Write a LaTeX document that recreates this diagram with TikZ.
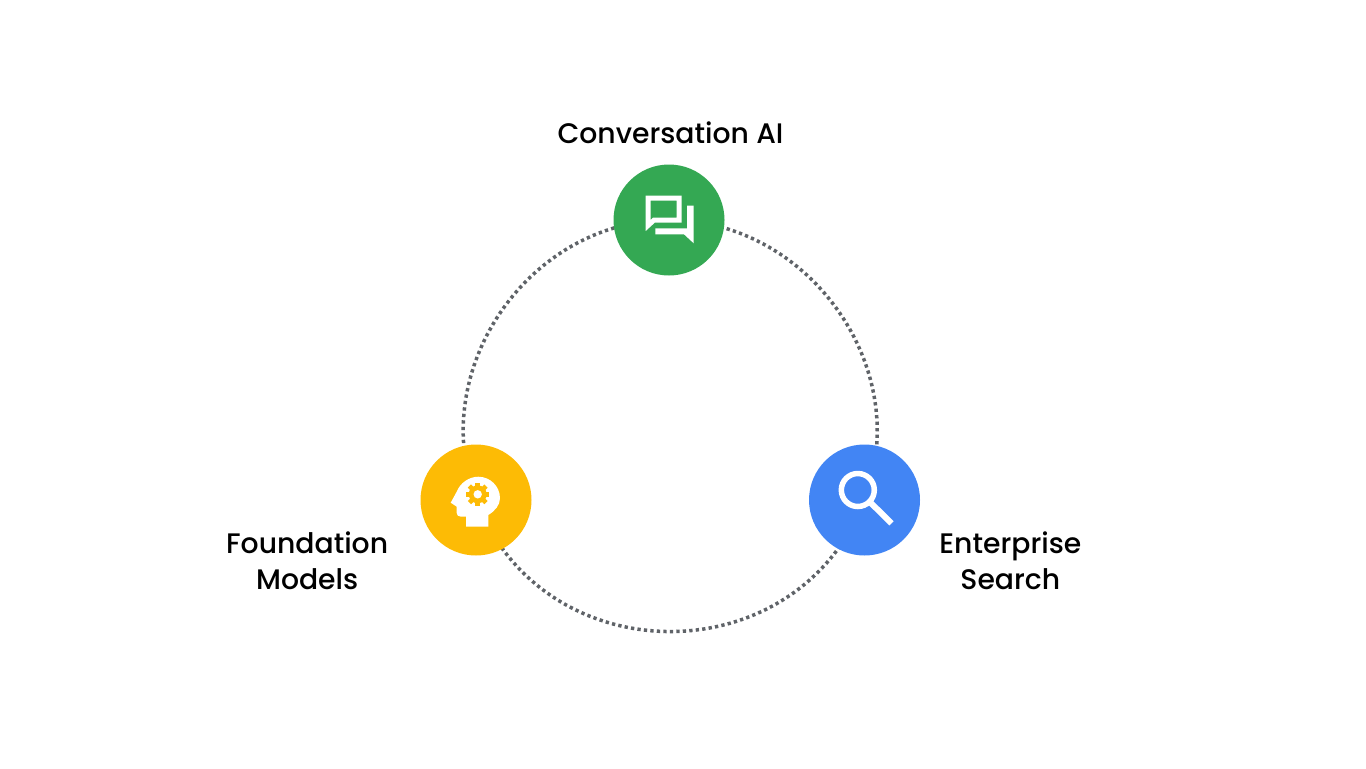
\documentclass[tikz,border=0pt]{standalone}
\usepackage{fontspec}
\setmainfont{Poppins Medium}
\usetikzlibrary{positioning, backgrounds}
\definecolor{convoGreen}{HTML}{34A853}
\definecolor{foundYellow}{HTML}{FDBB05}
\definecolor{searchBlue}{HTML}{4285F4}
\definecolor{ringGray}{HTML}{5F6368}
\tikzset{
  hub/.style={circle, minimum size=1.11cm, inner sep=0pt},
  caption/.style={align=center, inner sep=0pt, font=\fontsize{8.04pt}{10.25pt}\selectfont},
  ringline/.style={ringGray, line width=0.035cm, dash pattern=on 0.033cm off 0.032cm},
  px/.style={x=0.01cm, y=0.01cm}
}

\begin{document}
\begin{tikzpicture}
   \useasboundingbox (0,0) rectangle (13.66,-7.68);

   % Three hubs
   \node[hub, fill=convoGreen] (convo) at (6.69,-2.20) {};
   \node[hub, fill=foundYellow] (found) at (4.76,-5.00) {};
   \node[hub, fill=searchBlue] (search) at (8.645,-5.00) {};

   % Captions
   \node[caption, above=0.195cm of convo, xshift=0.015cm] (convoText) {Conversation AI};
   \node[caption, left=0.31cm of found, yshift=-0.61cm] (foundText) {Foundation\\Models};
   \node[caption, right=0.18cm of search, yshift=-0.61cm] (searchText) {Enterprise\\Search};

   % Dotted ring behind the hubs
   \begin{scope}[on background layer]
   \draw[ringline] (convo.center) to[out=0, in=69, looseness=1.05] (search.center);
   \draw[ringline] (search.center) to[out=-111, in=-69, looseness=1.24] (found.center);
   \draw[ringline] (found.center) to[out=111, in=180, looseness=1.05] (convo.center);
   \end{scope}

   % Chat icon
   \begin{scope}[px, shift={(convo.center)}]
   \fill[white, even odd rule] (-23.3,24.3) -- (12.7,24.3) -- (12.7,-2.7) -- (-14.3,-2.7) -- (-23.3,-11) -- cycle
      (-18.3,19.3) -- (7.7,19.3) -- (7.7,2.3) -- (-16,2.3) -- (-18.3,0) -- cycle;
   \fill[white] (18,14.3) -- (24.7,14.3) -- (24.7,-23.3) -- (15,-14.3) -- (-13.7,-14.3) -- (-13.7,-8.3) -- (18,-8.3) -- cycle;
   \end{scope}

   % Head icon
   \begin{scope}[px, shift={(found.center)}]
   \fill[white] (12.3,-26.7) -- (-10,-26.7) -- (-10,-16.7) -- (-15,-16.7)
      .. controls (-18,-16.7) and (-19.3,-15) .. (-19.3,-13) -- (-19.3,-6.7) -- (-25.3,-2.7)
      -- (-19.3,8.3) .. controls (-16,17) and (-7,23.3) .. (2.3,23.3)
      .. controls (14,23.3) and (24,14) .. (24,1.7)
      .. controls (24,-5) and (19,-11) .. (12.3,-15) -- cycle;
   \foreach \a in {0,45,...,315}
      \fill[foundYellow, rotate around={\a:(1.7,5.7)}] (-0.6,12.7) rectangle (4,17.4);
   \fill[foundYellow] (1.7,5.7) circle (9);
   \fill[white] (1.7,5.7) circle (4.2);
   \end{scope}

   % Magnifier icon
   \begin{scope}[px, shift={(search.center)}]
   \draw[white, line width=0.055cm] (-6.7,10) circle (16.5);
   \draw[white, line width=0.06cm] (5.2,-1.8) -- (27,-23.3);
   \end{scope}
\end{tikzpicture}
\end{document}
